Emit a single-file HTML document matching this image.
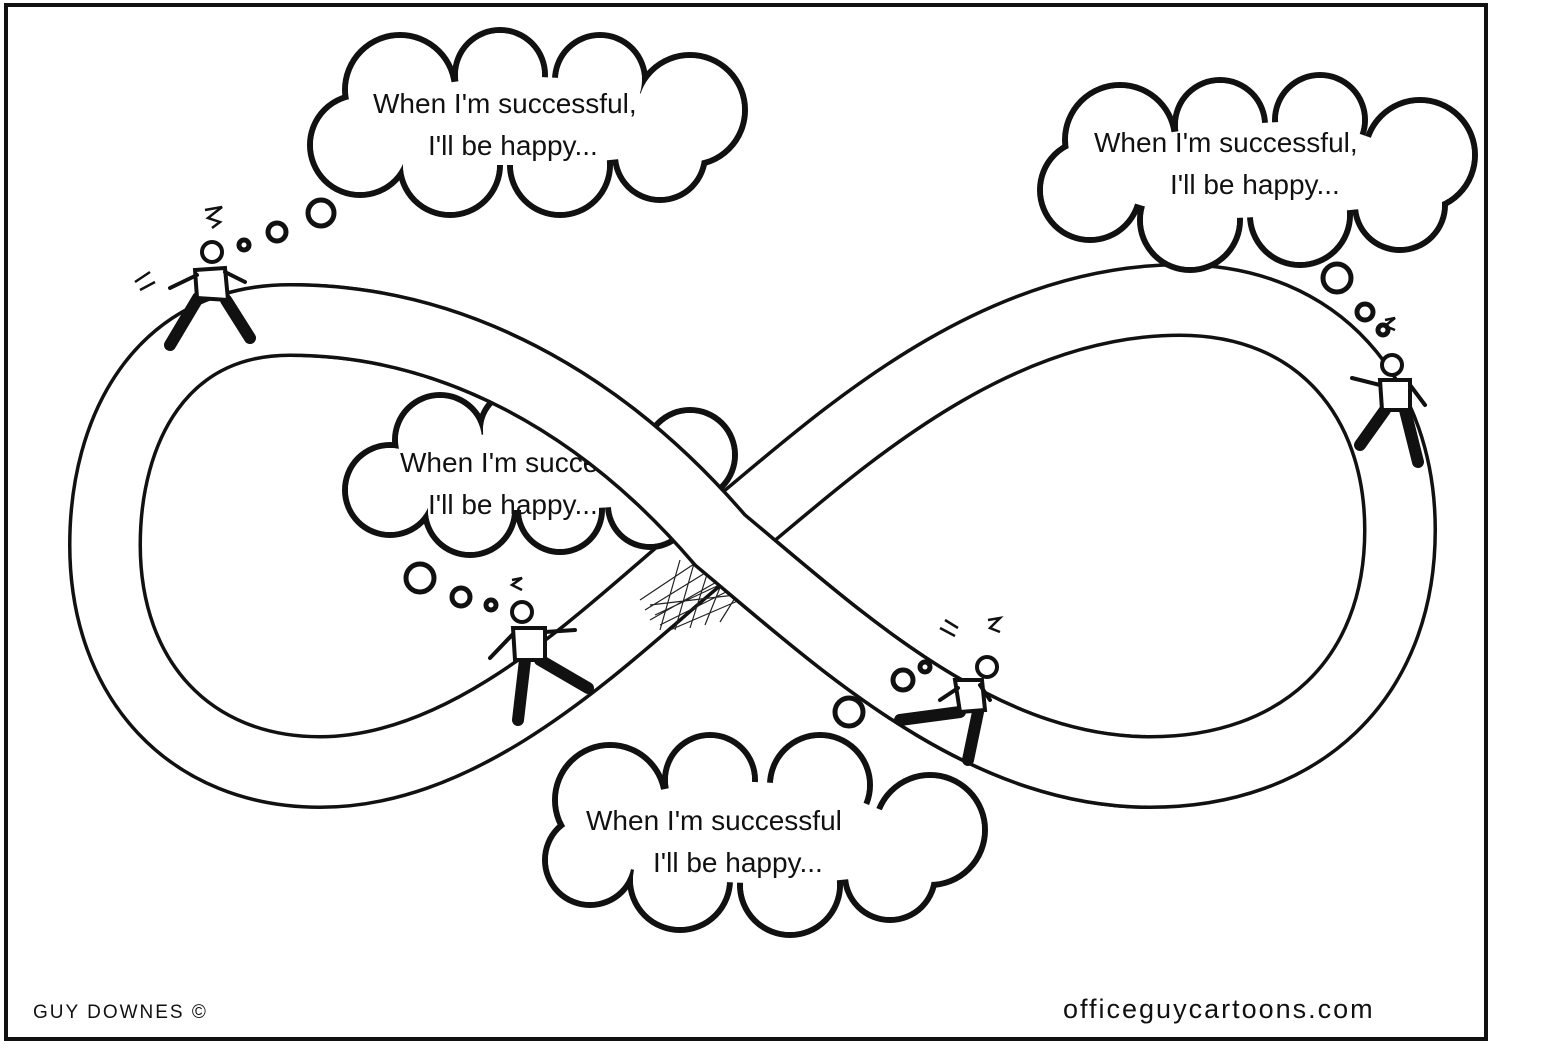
<!DOCTYPE html>
<html><head><meta charset="utf-8"><style>
html,body{margin:0;padding:0;background:#fff;}
svg{display:block;}
text{font-family:"Liberation Sans",sans-serif;fill:#111;}
</style></head><body>
<svg width="1567" height="1048" viewBox="0 0 1567 1048" xmlns="http://www.w3.org/2000/svg">
<rect width="1567" height="1048" fill="#fff"/>
<rect x="6" y="5" width="1480" height="1034" fill="none" stroke="#111" stroke-width="4"/>

<path d="M 720 540 C 600 400, 450 320, 290 320 C 160 320, 105 430, 105 545 C 105 680, 190 772, 320 772 C 480 772, 620 620, 720 540 C 820 460, 980 300, 1180 300 C 1320 300, 1400 400, 1400 530 C 1400 680, 1300 772, 1150 772 C 980 772, 840 640, 720 540 Z" fill="none" stroke="#111" stroke-width="74"/>
<path d="M 720 540 C 600 400, 450 320, 290 320 C 160 320, 105 430, 105 545 C 105 680, 190 772, 320 772 C 480 772, 620 620, 720 540 C 820 460, 980 300, 1180 300 C 1320 300, 1400 400, 1400 530 C 1400 680, 1300 772, 1150 772 C 980 772, 840 640, 720 540 Z" fill="none" stroke="#fff" stroke-width="67"/>

<g stroke="#222" stroke-width="1.2">
<path d="M640 600 L700 560 M645 610 L710 570 M650 620 L720 580 M660 625 L730 590 M670 630 L740 600 M680 560 L660 630 M695 560 L675 630 M710 565 L690 628 M725 575 L705 625 M740 590 L720 622 M650 605 L735 595 M655 615 L730 580"/>
</g>

<!-- cloud 3 -->
<g>
<g fill="#fff" stroke="#111" stroke-width="6">
<circle cx="440" cy="440" r="45"/><circle cx="520" cy="430" r="40"/><circle cx="600" cy="445" r="42"/><circle cx="690" cy="455" r="45"/><circle cx="390" cy="490" r="45"/><circle cx="470" cy="510" r="45"/><circle cx="560" cy="510" r="42"/><circle cx="650" cy="505" r="42"/>
</g>
<g fill="#fff"><circle cx="440" cy="440" r="42"/><circle cx="520" cy="430" r="37"/><circle cx="600" cy="445" r="39"/><circle cx="690" cy="455" r="42"/><circle cx="390" cy="490" r="42"/><circle cx="470" cy="510" r="42"/><circle cx="560" cy="510" r="39"/><circle cx="650" cy="505" r="39"/>
<polygon points="440,440 520,430 600,445 690,455 650,505 560,510 470,510 390,490"/></g>
<text x="400" y="472" font-size="28">When I'm successful,</text>
<text x="428" y="514" font-size="28">I'll be happy...</text>
</g>

<path d="M 290 320 C 450 320, 600 400, 720 540 C 840 640, 980 772, 1150 772" fill="none" stroke="#111" stroke-width="74"/>
<path d="M 290 320 C 450 320, 600 400, 720 540 C 840 640, 980 772, 1150 772" fill="none" stroke="#fff" stroke-width="67"/>

<!-- cloud 1 -->
<g>
<g fill="#fff" stroke="#111" stroke-width="6">
<circle cx="400" cy="90" r="55"/><circle cx="500" cy="75" r="45"/><circle cx="600" cy="80" r="45"/><circle cx="690" cy="110" r="55"/><circle cx="360" cy="145" r="50"/><circle cx="450" cy="165" r="50"/><circle cx="560" cy="165" r="50"/><circle cx="660" cy="155" r="45"/>
</g>
<g fill="#fff"><circle cx="400" cy="90" r="52"/><circle cx="500" cy="75" r="42"/><circle cx="600" cy="80" r="42"/><circle cx="690" cy="110" r="52"/><circle cx="360" cy="145" r="47"/><circle cx="450" cy="165" r="47"/><circle cx="560" cy="165" r="47"/><circle cx="660" cy="155" r="42"/>
<polygon points="400,90 500,75 600,80 690,110 660,155 560,165 450,165 360,145"/></g>
<text x="373" y="113" font-size="28">When I'm successful,</text>
<text x="428" y="155" font-size="28">I'll be happy...</text>
</g>

<!-- cloud 2 -->
<g>
<g fill="#fff" stroke="#111" stroke-width="6">
<circle cx="1120" cy="140" r="55"/><circle cx="1220" cy="125" r="45"/><circle cx="1320" cy="120" r="45"/><circle cx="1420" cy="155" r="55"/><circle cx="1090" cy="190" r="50"/><circle cx="1190" cy="220" r="50"/><circle cx="1300" cy="215" r="50"/><circle cx="1400" cy="205" r="45"/>
</g>
<g fill="#fff"><circle cx="1120" cy="140" r="52"/><circle cx="1220" cy="125" r="42"/><circle cx="1320" cy="120" r="42"/><circle cx="1420" cy="155" r="52"/><circle cx="1090" cy="190" r="47"/><circle cx="1190" cy="220" r="47"/><circle cx="1300" cy="215" r="47"/><circle cx="1400" cy="205" r="42"/>
<polygon points="1120,140 1220,125 1320,120 1420,155 1400,205 1300,215 1190,220 1090,190"/></g>
<text x="1094" y="152" font-size="28">When I'm successful,</text>
<text x="1170" y="194" font-size="28">I'll be happy...</text>
</g>

<!-- cloud 4 -->
<g>
<g fill="#fff" stroke="#111" stroke-width="6">
<circle cx="610" cy="800" r="55"/><circle cx="710" cy="780" r="45"/><circle cx="820" cy="785" r="50"/><circle cx="930" cy="830" r="55"/><circle cx="590" cy="860" r="45"/><circle cx="680" cy="880" r="50"/><circle cx="790" cy="885" r="50"/><circle cx="890" cy="875" r="45"/>
</g>
<g fill="#fff"><circle cx="610" cy="800" r="52"/><circle cx="710" cy="780" r="42"/><circle cx="820" cy="785" r="47"/><circle cx="930" cy="830" r="52"/><circle cx="590" cy="860" r="42"/><circle cx="680" cy="880" r="47"/><circle cx="790" cy="885" r="47"/><circle cx="890" cy="875" r="42"/>
<polygon points="610,800 710,780 820,785 930,830 890,875 790,885 680,880 590,860"/></g>
<text x="586" y="830" font-size="28">When I'm successful</text>
<text x="653" y="872" font-size="28">I'll be happy...</text>
</g>

<g fill="#fff" stroke="#111" stroke-width="5">
<circle cx="321" cy="213" r="13"/><circle cx="277" cy="232" r="9"/><circle cx="244" cy="245" r="5"/>
<circle cx="1337" cy="278" r="14"/><circle cx="1365" cy="312" r="8"/><circle cx="1383" cy="330" r="5"/>
<circle cx="420" cy="578" r="14"/><circle cx="461" cy="597" r="9"/><circle cx="491" cy="605" r="5"/>
<circle cx="849" cy="712" r="14"/><circle cx="903" cy="680" r="10"/><circle cx="925" cy="667" r="5"/>
</g>

<g stroke="#111" stroke-width="4" fill="#fff" stroke-linecap="round">
 <circle cx="212" cy="252" r="10"/>
 <path d="M198 298 L170 345 M226 300 L250 338" stroke-width="12"/>
 <path d="M195 270 L225 268 L228 300 L197 298 Z"/>
 <path d="M197 275 L170 288 M225 272 L245 282"/>
 <circle cx="1392" cy="365" r="10"/>
 <path d="M1385 410 L1360 445 M1405 410 L1418 462" stroke-width="12"/>
 <path d="M1380 380 L1410 380 L1410 410 L1382 410 Z"/>
 <path d="M1380 385 L1352 378 M1410 385 L1425 405"/>
 <circle cx="522" cy="612" r="10"/>
 <path d="M525 660 L518 720 M540 660 L588 688" stroke-width="12"/>
 <path d="M513 628 L545 628 L545 660 L515 660 Z"/>
 <path d="M513 634 L490 658 M545 632 L575 630"/>
 <circle cx="987" cy="667" r="10"/>
 <path d="M960 712 L900 720 M978 712 L968 760" stroke-width="12"/>
 <path d="M955 680 L982 680 L985 710 L960 712 Z"/>
 <path d="M958 688 L940 700 M980 685 L990 700"/>
</g>
<g stroke="#111" stroke-width="2.5" fill="none">
 <path d="M205 210 L222 207 L208 218 L220 222 L212 228"/>
 <path d="M1385 320 L1395 318 L1385 326 L1395 330"/>
 <path d="M512 580 L522 578 L512 585 L522 590"/>
 <path d="M988 620 L1000 618 L990 628 L1000 632"/>
 <path d="M135 282 L150 272 M140 290 L155 282"/>
 <path d="M940 628 L955 636 M945 620 L958 628"/>
</g>

<text x="33" y="1018" font-size="19" letter-spacing="2">GUY DOWNES ©</text>
<text x="1063" y="1018" font-size="27" letter-spacing="2">officeguycartoons.com</text>
</svg>
</body></html>
